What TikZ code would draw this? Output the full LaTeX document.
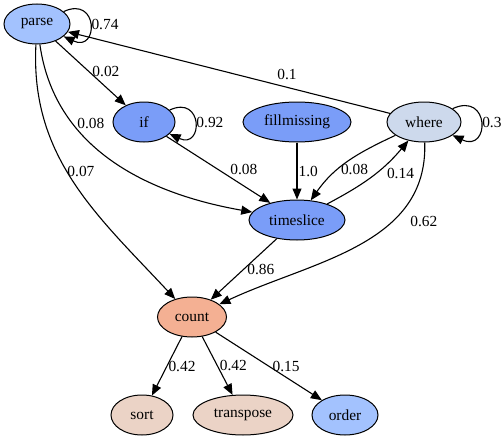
\documentclass[tikz,border=0pt]{standalone}
\usepackage{fontspec}
\setmainfont{Liberation Serif}
\usetikzlibrary{shapes.geometric,arrows.meta}
\definecolor{paleblue}{HTML}{A3C2FE}
\definecolor{midblue}{HTML}{7A9DF8}
\definecolor{greyblue}{HTML}{CDD9EC}
\definecolor{salmon}{HTML}{F4B093}
\definecolor{beige}{HTML}{EBD3C6}
\begin{document}
\begin{tikzpicture}[x=1pt,y=1pt,
                    font=\rmfamily\fontsize{15.4}{18}\selectfont,
                    main node/.style={ellipse,draw,line width=1pt,inner sep=0pt,minimum height=40pt},
                    self loop/.style={out=25,in=-25,looseness=4},
                    every edge/.style={draw,line width=1.1pt,-{Triangle[length=11pt,width=9pt]}}
                   ]
  \useasboundingbox (0,0) rectangle (504,-439);
  \node[main node,fill=paleblue,minimum width=66pt] (parse) at (37,-24) {parse};
  \node[main node,fill=midblue,minimum width=62pt] (if) at (144,-122) {if};
  \node[main node,fill=midblue,minimum width=108pt] (fillmissing) at (297,-122) {fillmissing};
  \node[main node,fill=greyblue,minimum width=74pt] (where) at (424,-122) {where};
  \node[main node,fill=midblue,minimum width=96pt] (timeslice) at (297,-220) {timeslice};
  \node[main node,fill=salmon,minimum width=69pt] (count) at (192,-317) {count};
  \node[main node,fill=beige,minimum width=62pt] (sort) at (142,-415) {sort};
  \node[main node,fill=beige,minimum width=100pt] (transpose) at (243,-415) {transpose};
  \node[main node,fill=paleblue,minimum width=66pt] (order) at (345,-415) {order};
  \path%
   (parse) edge [self loop] node [right,inner sep=1pt] {0.74} (parse)
   (parse) edge node [pos=0.47,right] {0.02} (if)
   (where) edge node [pos=0.32,above,yshift=4pt] {0.1} (parse)
   (parse) edge [out=-82,in=170] node [pos=0.3,right=1pt] {0.08} (timeslice)
   (parse) edge [out=-93,in=133] node [pos=0.45,right,inner sep=0pt] {0.07} (count)
   (if) edge [self loop] node [right,inner sep=1pt] {0.92} (if)
   (if) edge node [pos=0.6,above right,inner sep=1pt] {0.08} (timeslice)
   (fillmissing) edge node [right,inner sep=1pt] {1.0} (timeslice)
   (where) edge [out=-155,in=55] node [pos=0.62,right,inner sep=2pt] {0.08} (timeslice)
   (timeslice) edge [out=28,in=-130] node [pos=0.55,right=8pt] {0.14} (where)
   (where) edge [self loop] node [right,inner sep=1pt] {0.3} (where)
   (where) edge [out=-88,in=25] node [pos=0.34,right=14pt] {0.62} (count)
   (timeslice) edge node [right,inner sep=3pt] {0.86} (count)
   (count) edge node [right,inner sep=1pt] {0.42} (sort)
   (count) edge node [right,inner sep=2pt] {0.42} (transpose)
   (count) edge node [right] {0.15} (order);
\end{tikzpicture}
\end{document}
